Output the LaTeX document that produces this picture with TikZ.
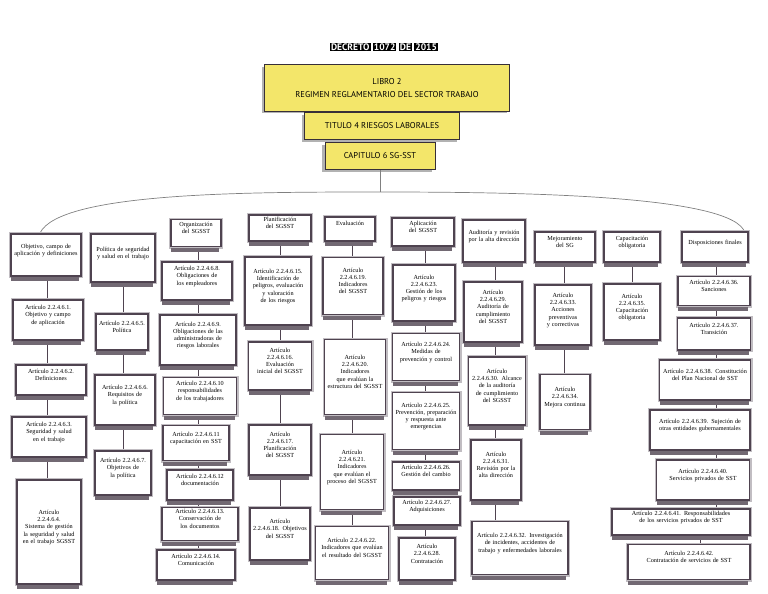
\documentclass[tikz,border=0pt]{standalone}
\usepackage{fontspec}
\setmainfont{Liberation Serif}
\newfontfamily\hdfont{PT Sans}
\definecolor{bord}{HTML}{4F4350}
\definecolor{yel}{HTML}{F3E66A}
\tikzset{
 bx/.style={draw=bord,line width=1.5pt,fill=white,align=center,inner sep=1pt,
  font=\fontsize{6.2}{7.2}\selectfont,
  preaction={draw=bord!35,line width=4pt}},
 yb/.style={draw=bord!70!black,line width=1pt,fill=yel,align=center,font=\hdfont\fontsize{8.5}{13}\selectfont,
  preaction={fill=gray!60,transform canvas={xshift=-3pt,yshift=-2pt}}},
 band/.style={draw=bord!80,line width=4pt},
 ln/.style={draw=bord,line width=0.9pt},
}
\newcommand\bx[7]{\node[bx,minimum width=#4pt,minimum height=#5pt,text width=#4pt-6pt] (#1) at (#2,#3) {\hyphenpenalty=10000 \exhyphenpenalty=10000 #6\\[1pt]\strut};
\draw[band] (#1.south west) ++(1pt,-2.6pt) -- ++(#4pt-2pt,0pt);}
\begin{document}
\begin{tikzpicture}[x=1pt,y=-1pt]
\useasboundingbox (0,0) rectangle (768,594);
% header
\node[font=\hdfont\bfseries\fontsize{9.5}{10}\selectfont,inner sep=0pt] (dec) at (384,47) {\setlength\fboxsep{1pt}\colorbox{black}{\textcolor{white}{DECRETO}} \colorbox{black}{\textcolor{white}{1072}} \colorbox{black}{\textcolor{white}{DE}} \colorbox{black}{\textcolor{white}{2015}}};
\node[yb,minimum width=245pt,minimum height=46pt] (lib) at (387,88) {LIBRO 2\\REGIMEN REGLAMENTARIO DEL SECTOR TRABAJO};
\node[yb,minimum width=155pt,minimum height=27pt] (tit) at (382,126) {TITULO 4 RIESGOS LABORALES};
\node[yb,minimum width=110pt,minimum height=27pt] (cap) at (380,156) {CAPITULO 6 SG-SST};
\coordinate (top) at (380,192);
\draw[gray,line width=0.7pt] (cap.south) -- (top);
\draw[gray,line width=0.7pt] (40,233) .. controls (60,192) and (250,192) .. (top) .. controls (520,192) and (735,195) .. (745,233);
% connectors first (behind boxes)
\foreach \xa/\ya/\yb in {47/255/532,123/258/473,198/233/565,280/228/534,352/229/553,425/232/559,495/241/548,564/247/402,632/247/312,716/247/522,700/522/562}
 {\draw[ln] (\xa,\ya) -- (\xa,\yb);}
% col1
\bx{a0}{46}{255}{70}{42}{Objetivo, campo de aplicación y definiciones}{}
\bx{a1}{48}{320}{70}{40}{Artículo 2.2.4.6.1. Objetivo y campo de aplicación}{}
\bx{a2}{51}{380}{70}{30}{Artículo 2.2.4.6.2. Definiciones}{}
\bx{a3}{49}{437}{74}{40}{Artículo 2.2.4.6.3. Seguridad y salud en el trabajo}{}
\bx{a4}{49}{532}{64}{104}{Artículo\\2.2.4.6.4.\\Sistema de gestión la seguridad y salud en el trabajo SGSST}{}
% col2
\bx{b0}{123}{258}{64}{48}{Política de seguridad y salud en el trabajo}{}
\bx{b1}{122}{332}{52}{36}{Artículo 2.2.4.6.5. Política}{}
\bx{b2}{125}{400}{60}{50}{Artículo 2.2.4.6.6. Requisitos de la política}{}
\bx{b3}{123}{473}{56}{44}{Artículo 2.2.4.6.7. Objetivos de la política}{}
% col3
\bx{c0}{196}{233}{50}{27}{Organización del SGSST}{}
\bx{c1}{197}{281}{70}{38}{Artículo 2.2.4.6.8. Obligaciones de los empleadores}{}
\bx{c2}{198}{340}{76}{50}{Artículo 2.2.4.6.9. Obligaciones de las administradoras de riesgos laborales}{}
\bx{c3}{200}{396}{73}{37}{Artículo 2.2.4.6.10 responsabilidades de los trabajadores}{}
\bx{c4}{196}{443}{66}{35}{Artículo 2.2.4.6.11 capacitación en SST}{}
\bx{c5}{200}{485}{66}{30}{Artículo 2.2.4.6.12 documentación}{}
\bx{c6}{200}{524}{76}{33}{Artículo 2.2.4.6.13. Conservación de los documentos}{}
\bx{c7}{196}{565}{78}{30}{Artículo 2.2.4.6.14. Comunicación}{}
% col4
\bx{d0}{280}{228}{62}{26}{Planificación del SGSST}{}
\bx{d1}{278}{291}{66}{68}{Artículo 2.2.4.6.15. Identificación de peligros, evaluación y valoración de los riesgos}{}
\bx{d2}{280}{366}{63}{48}{Artículo\\2.2.4.6.16. Evaluación inicial del SGSST}{}
\bx{d3}{280}{450}{62}{50}{Artículo\\2.2.4.6.17. Planificación del SGSST}{}
\bx{d4}{280}{534}{60}{52}{Artículo\\2.2.4.6.18. Objetivos del SGSST}{}
% col5
\bx{e0}{350}{229}{50}{24}{Evaluación}{}
\bx{e1}{353}{286}{60}{57}{Artículo\\2.2.4.6.19. Indicadores del SGSST}{}
\bx{e2}{355}{377}{61}{75}{Artículo\\2.2.4.6.20. Indicadores que evalúan la estructura del SGSST}{}
\bx{e3}{352}{472}{63}{75}{Artículo\\2.2.4.6.21. Indicadores que evalúan el proceso del SGSST}{}
\bx{e4}{352}{553}{73}{53}{Artículo 2.2.4.6.22. Indicadores que evalúan el resultado del SGSST}{}
% col6
\bx{f0}{423}{232}{62}{28}{Aplicación del SGSST}{}
\bx{f1}{424}{293}{62}{56}{Artículo\\2.2.4.6.23. Gestión de los peligros y riesgos}{}
\bx{f2}{426}{357}{67}{47}{Artículo 2.2.4.6.24. Medidas de prevención y control}{}
\bx{f3}{426}{421}{67}{57}{Artículo 2.2.4.6.25. Prevención, preparación y respuesta ante emergencias}{}
\bx{f4}{426}{476}{67}{28}{Artículo 2.2.4.6.26. Gestión del cambio}{}
\bx{f5}{427}{511}{66}{28}{Artículo 2.2.4.6.27. Adquisiciones}{}
\bx{f6}{427}{559}{56}{42}{Artículo\\2.2.4.6.28. Contratación}{}
% col7
\bx{g0}{494}{241}{62}{42}{Auditoría y revisión por la alta dirección}{}
\bx{g1}{493}{312}{58}{60}{Artículo\\2.2.4.6.29. Auditoría de cumplimiento del SGSST}{}
\bx{g2}{497}{391}{57}{68}{Artículo\\2.2.4.6.30. Alcance de la auditoría de cumplimiento del SGSST}{}
\bx{g3}{496}{470}{50}{60}{Artículo\\2.2.4.6.31. Revisión por la alta dirección}{}
\bx{g4}{520}{548}{96}{53}{Artículo 2.2.4.6.32. Investigación de incidentes, accidentes de trabajo y enfermedades laborales}{}
% col8
\bx{h0}{565}{247}{60}{30}{Mejoramiento del SG}{}
\bx{h1}{563}{315}{56}{60}{Artículo\\2.2.4.6.33. Acciones preventivas y correctivas}{}
\bx{h2}{565}{402}{50}{55}{Artículo\\2.2.4.6.34. Mejora continua}{}
% col9
\bx{i0}{632}{247}{56}{30}{Capacitación obligatoria}{}
\bx{i1}{632}{312}{56}{56}{Artículo\\2.2.4.6.35. Capacitación obligatoria}{}
% col10
\bx{j0}{715}{247}{66}{30}{Disposiciones finales}{}
\bx{j1}{714}{291}{72}{29}{Artículo 2.2.4.6.36. Sanciones}{}
\bx{j2}{714}{334}{73}{32}{Artículo 2.2.4.6.37. Transición}{}
\bx{j3}{705}{380}{91}{40}{Artículo 2.2.4.6.38. Constitución del Plan Nacional de SST}{}
\bx{j4}{700}{430}{100}{40}{Artículo 2.2.4.6.39. Sujeción de otras entidades gubernamentales}{}
\bx{j5}{703}{480}{93}{40}{Artículo 2.2.4.6.40.\\Servicios privados de SST}{}
\bx{j6}{681}{522}{138}{26}{Artículo 2.2.4.6.41. Responsabilidades de los servicios privados de SST}{}
\bx{j7}{689}{562}{122}{35}{Artículo 2.2.4.6.42.\\Contratación de servicios de SST}{}
\end{tikzpicture}
\end{document}
